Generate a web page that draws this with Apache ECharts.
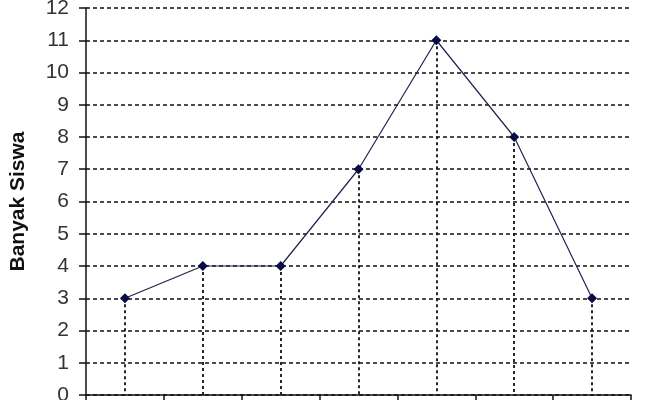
<!DOCTYPE html>
<html>
<head>
<meta charset="utf-8">
<script src="https://cdn.jsdelivr.net/npm/echarts@6/dist/echarts.min.js"></script>
<style>html,body{margin:0;padding:0;background:#fff}#c{width:650px;height:400px}</style>
</head>
<body>
<div id="c"></div>
<script>
const categories = ["1", "2", "3", "4", "5", "6", "7"];
const siswa = [3, 4, 4, 7, 11, 8, 3];
const yTicks = [0, 1, 2, 3, 4, 5, 6, 7, 8, 9, 10, 11, 12];

const chart = echarts.init(document.getElementById('c'), null, {renderer: 'canvas'});
const dropLines = siswa.map((v, i) => [{coord: [i, v]}, {coord: [i, 0]}]);
chart.setOption({
  animation: false,
  grid: {left: 86, right: 19, top: 8, bottom: 5, containLabel: false, outerBoundsMode: 'none'},
  xAxis: {
    type: 'category',
    data: categories,
    boundaryGap: true,
    axisLine: {lineStyle: {color: '#111', width: 1.5}},
    axisTick: {show: true, length: 8, lineStyle: {color: '#111', width: 1.5}},
    axisLabel: {show: false},
    splitLine: {show: false}
  },
  yAxis: {
    type: 'value',
    min: yTicks[0],
    max: yTicks[yTicks.length - 1],
    interval: 1,
    name: 'Banyak Siswa',
    nameLocation: 'middle',
    nameGap: 57,
    nameRotate: 90,
    nameTextStyle: {fontFamily: 'Liberation Sans, Arial, sans-serif', fontSize: 21, fontWeight: 'bold', color: '#111'},
    axisLine: {show: true, lineStyle: {color: '#111', width: 1.5}},
    axisTick: {show: true, length: 7, lineStyle: {color: '#111', width: 1.5}},
    axisLabel: {margin: 17, fontFamily: 'Liberation Sans, Arial, sans-serif', fontSize: 21, color: '#333'},
    splitLine: {show: true, lineStyle: {color: '#111', width: 1.5, type: [4, 3]}}
  },
  series: [{
    type: 'line',
    data: siswa,
    symbol: 'diamond',
    symbolSize: 10,
    itemStyle: {color: '#0a0a45'},
    lineStyle: {color: '#22224f', width: 1.2},
    z: 3,
    markLine: {
      silent: true,
      symbol: 'none',
      label: {show: false},
      lineStyle: {color: '#111', width: 1.8, type: [3, 3]},
      data: dropLines,
      z: 1
    }
  }]
});
</script>
</body>
</html>
